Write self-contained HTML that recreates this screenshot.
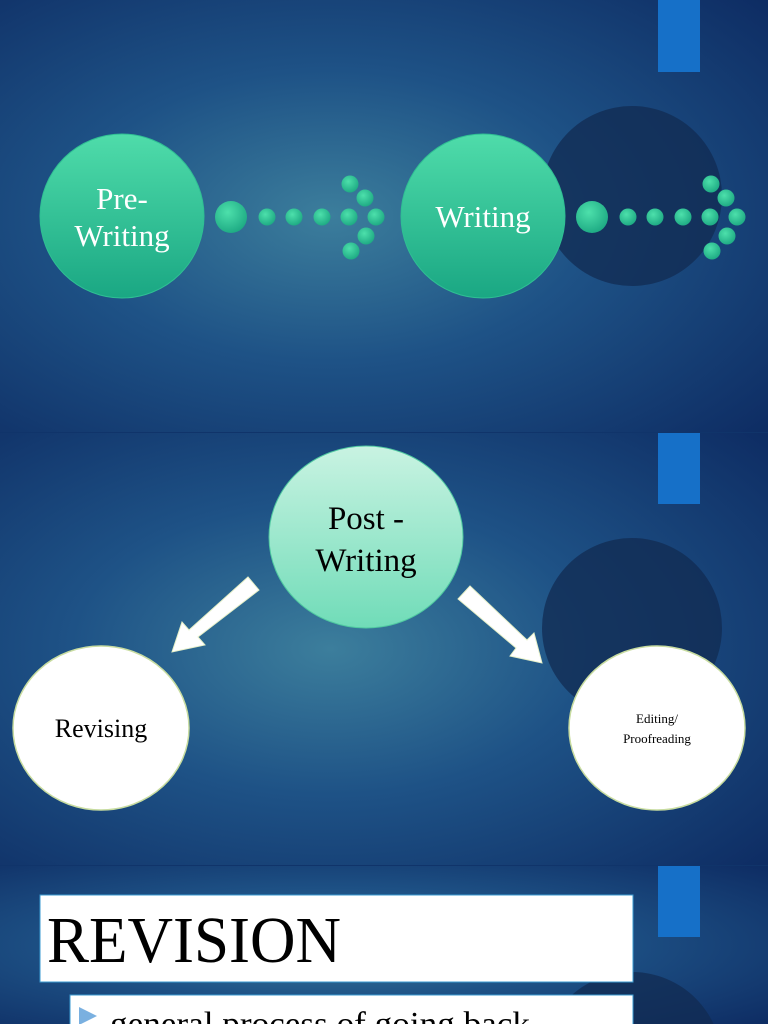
<!DOCTYPE html>
<html><head><style>
html,body{margin:0;padding:0;background:#10346a;width:768px;height:1024px;overflow:hidden;}
svg{display:block}
text{font-family:"Liberation Serif",serif;}
</style></head><body>
<svg width="768" height="1024" viewBox="0 0 768 1024" xmlns="http://www.w3.org/2000/svg">
<defs>
<radialGradient id="bg" cx="0.43" cy="0.5" r="0.75">
<stop offset="0" stop-color="#3c7e9c"/><stop offset="0.45" stop-color="#1e5286"/><stop offset="1" stop-color="#0e2d64"/>
</radialGradient>
<linearGradient id="g1" x1="0" y1="0" x2="0" y2="1"><stop offset="0" stop-color="#4fdcaa"/><stop offset="1" stop-color="#1aa783"/></linearGradient>
<linearGradient id="g2" x1="0" y1="0" x2="0" y2="1"><stop offset="0" stop-color="#c9f3e2"/><stop offset="1" stop-color="#70dcb8"/></linearGradient>
<radialGradient id="dot" cx="0.4" cy="0.35" r="0.7"><stop offset="0" stop-color="#4de0ab"/><stop offset="1" stop-color="#1ca882"/></radialGradient>
<g id="dots">
<circle cx="231" cy="217" r="16" fill="url(#dot)"/>
<circle cx="267" cy="217" r="8.5" fill="url(#dot)"/>
<circle cx="294" cy="217" r="8.5" fill="url(#dot)"/>
<circle cx="322" cy="217" r="8.5" fill="url(#dot)"/>
<circle cx="349" cy="217" r="8.5" fill="url(#dot)"/>
<circle cx="376" cy="217" r="8.5" fill="url(#dot)"/>
<circle cx="350" cy="184" r="8.5" fill="url(#dot)"/>
<circle cx="365" cy="198" r="8.5" fill="url(#dot)"/>
<circle cx="366" cy="236" r="8.5" fill="url(#dot)"/>
<circle cx="351" cy="251" r="8.5" fill="url(#dot)"/>
</g>
</defs>
<!-- slide 1 -->
<rect x="0" y="0" width="768" height="432" fill="url(#bg)"/>
<rect x="658" y="0" width="42" height="72" fill="#1670c8"/>
<circle cx="632" cy="196" r="90" fill="#112b52" opacity="0.75"/>
<circle cx="122" cy="216" r="82" fill="url(#g1)" stroke="#2fbf93" stroke-width="1"/>
<text x="122" y="209" font-size="31" fill="#fff" text-anchor="middle">Pre-</text>
<text x="122" y="246" font-size="31" fill="#fff" text-anchor="middle">Writing</text>
<use href="#dots"/>
<circle cx="483" cy="216" r="82" fill="url(#g1)" stroke="#2fbf93" stroke-width="1"/>
<text x="483" y="227" font-size="31" fill="#fff" text-anchor="middle">Writing</text>
<use href="#dots" transform="translate(361,0)"/>
<!-- slide 2 -->
<rect x="0" y="433" width="768" height="432" fill="url(#bg)"/>
<rect x="658" y="433" width="42" height="71" fill="#1670c8"/>
<circle cx="632" cy="628" r="90" fill="#112b52" opacity="0.75"/>
<ellipse cx="366" cy="537" rx="97" ry="91" fill="url(#g2)" stroke="#4fc9a0" stroke-width="1"/>
<text x="366" y="529" font-size="33" fill="#000" text-anchor="middle">Post -</text>
<text x="366" y="571" font-size="33" fill="#000" text-anchor="middle">Writing</text>
<polygon points="248,577 259,590 198,637 205,645 172,652 182,622 189,630" fill="#fff" stroke="#e6f0c8" stroke-width="1"/>
<polygon points="470,586 458,599 516,648 510,656 542,663 534,633 527,640" fill="#fff" stroke="#e6f0c8" stroke-width="1"/>
<ellipse cx="101" cy="728" rx="88" ry="82" fill="#fff" stroke="#c8dca0" stroke-width="1.5"/>
<text x="101" y="737" font-size="26" fill="#000" text-anchor="middle">Revising</text>
<ellipse cx="657" cy="728" rx="88" ry="82" fill="#fff" stroke="#c8dca0" stroke-width="1.5"/>
<text x="657" y="723" font-size="13" fill="#000" text-anchor="middle">Editing/</text>
<text x="657" y="743" font-size="13" fill="#000" text-anchor="middle">Proofreading</text>
<!-- slide 3 -->
<rect x="0" y="866" width="768" height="158" fill="url(#bg)"/>
<rect x="658" y="866" width="42" height="71" fill="#1670c8"/>
<circle cx="632" cy="1062" r="90" fill="#112b52" opacity="0.75"/>
<rect x="40" y="895" width="593" height="87" fill="#fff" stroke="#3a9ad0" stroke-width="1"/>
<text x="47" y="962" font-size="66" fill="#000" textLength="294" lengthAdjust="spacingAndGlyphs">REVISION</text>
<rect x="70" y="995" width="563" height="40" fill="#fff" stroke="#3a9ad0" stroke-width="1"/>
<polygon points="79,1007 97,1016 79,1025" fill="#7ab0e0"/>
<text x="110" y="1035" font-size="34" fill="#000" textLength="420" lengthAdjust="spacingAndGlyphs">general process of going back</text>
</svg>
</body></html>
